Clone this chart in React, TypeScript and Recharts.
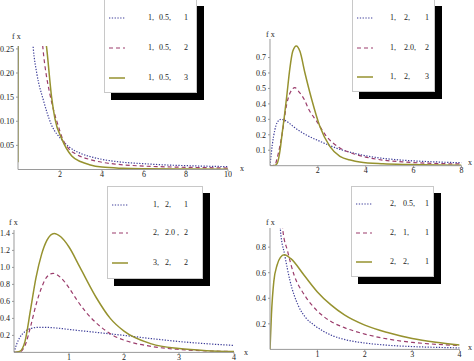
import React from 'react';
import { LineChart, Line, XAxis, YAxis } from 'recharts';

type Pt = { x: number; y: number };
const pts = (a: number[][]): Pt[] => a.map(([x, y]) => ({ x, y }));

// panel 1: (1, 0.5, c)
const p1Blue = [[0.6, 0.33], [0.73, 0.25], [0.9, 0.198], [1.2, 0.145], [1.6, 0.092], [2.08, 0.062], [2.4, 0.048], [3, 0.033], [3.5, 0.026], [4, 0.021], [5, 0.015], [6, 0.012], [7, 0.0095], [8, 0.008], [9, 0.0068], [10, 0.006]];
const p1Red = [[1.05, 0.33], [1.19, 0.25], [1.35, 0.195], [1.5, 0.16], [1.7, 0.122], [1.92, 0.09], [2.1, 0.066], [2.4, 0.044], [2.8, 0.031], [3.4, 0.021], [4, 0.015], [4.7, 0.011], [6, 0.007], [7, 0.0055], [8, 0.0045], [9, 0.0038], [10, 0.003]];
const p1Olive = [[0, 0.015], [0.03, 0.6], [0.5, 0.7], [1.0, 0.38], [1.2, 0.31], [1.37, 0.25], [1.6, 0.15], [1.76, 0.105], [2.08, 0.064], [2.56, 0.028], [3, 0.016], [3.4, 0.01], [4, 0.005], [5, 0.0025], [6, 0.0015], [8, 0.0008], [10, 0.0005]];

// panel 2
const p2Blue = [[0, 0], [0.1, 0.14], [0.2, 0.23], [0.3, 0.28], [0.45, 0.3], [0.6, 0.295], [0.8, 0.275], [1, 0.25], [1.25, 0.223], [1.5, 0.2], [2.08, 0.158], [2.5, 0.13], [2.92, 0.106], [3.4, 0.085], [3.75, 0.072], [4.58, 0.05], [5.2, 0.04], [5.8, 0.033], [7, 0.024], [8, 0.019]];
const p2Red = [[0, 0], [0.2, 0.003], [0.3, 0.05], [0.5, 0.2], [0.7, 0.4], [0.85, 0.475], [1.04, 0.505], [1.2, 0.48], [1.46, 0.42], [1.6, 0.37], [1.94, 0.29], [2.36, 0.19], [2.92, 0.115], [3.4, 0.082], [3.75, 0.065], [4.72, 0.036], [5.7, 0.023], [7, 0.014], [8, 0.011]];
const p2Olive = [[0, 0], [0.2, 0.002], [0.3, 0.015], [0.42, 0.1], [0.5, 0.2], [0.6, 0.32], [0.7, 0.45], [0.83, 0.63], [0.95, 0.74], [1.1, 0.775], [1.25, 0.74], [1.46, 0.6], [1.74, 0.43], [2.08, 0.255], [2.5, 0.125], [2.92, 0.06], [3.4, 0.035], [3.75, 0.024], [4.72, 0.012], [5.8, 0.007], [7, 0.004], [8, 0.003]];

// panel 3
const p3Blue = [[0, 0], [0.05, 0.1], [0.1, 0.17], [0.2, 0.245], [0.3, 0.28], [0.45, 0.295], [0.55, 0.295], [0.8, 0.285], [1, 0.27], [1.5, 0.235], [2, 0.2], [2.5, 0.162], [3, 0.128], [3.5, 0.102], [4, 0.082]];
const p3Red = [[0, 0], [0.1, 0.005], [0.2, 0.08], [0.3, 0.3], [0.4, 0.56], [0.5, 0.76], [0.6, 0.89], [0.71, 0.93], [0.85, 0.88], [1, 0.76], [1.14, 0.62], [1.3, 0.48], [1.56, 0.31], [1.8, 0.2], [2, 0.145], [2.5, 0.07], [3, 0.035], [3.5, 0.018], [4, 0.01]];
const p3Olive = [[0, 0], [0.1, 0.01], [0.2, 0.13], [0.3, 0.5], [0.4, 0.88], [0.5, 1.15], [0.6, 1.32], [0.73, 1.4], [0.85, 1.36], [1, 1.24], [1.2, 1.0], [1.5, 0.64], [1.75, 0.4], [2, 0.25], [2.5, 0.1], [3, 0.045], [3.5, 0.02], [4, 0.01]];

// panel 4
const p4Blue = [[0.18, 1.2], [0.22, 0.935], [0.31, 0.74], [0.42, 0.54], [0.6, 0.34], [0.75, 0.25], [0.95, 0.185], [1.3, 0.11], [1.6, 0.075], [2, 0.05], [2.5, 0.032], [3, 0.022], [3.5, 0.016], [4, 0.012]];
const p4Red = [[0.23, 1.2], [0.27, 0.935], [0.37, 0.77], [0.51, 0.58], [0.72, 0.43], [1, 0.3], [1.28, 0.22], [1.57, 0.17], [2, 0.12], [2.5, 0.08], [3, 0.055], [3.5, 0.04], [4, 0.03]];
const p4Olive = [[0, 0], [0.03, 0.27], [0.08, 0.53], [0.15, 0.66], [0.22, 0.72], [0.3, 0.74], [0.44, 0.71], [0.72, 0.58], [1, 0.45], [1.28, 0.35], [1.57, 0.27], [2, 0.19], [2.5, 0.13], [3, 0.085], [3.5, 0.056], [4, 0.035]];

// ticks
const p1XTicks = [2, 4, 6, 8, 10];
const p1YTicks = [0.05, 0.1, 0.15, 0.2, 0.25];
const p1YLabels = ['0.05', '0.10', '0.15', '0.20', '0.25'];
const p2XTicks = [2, 4, 6, 8];
const p2YTicks = [0.1, 0.2, 0.3, 0.4, 0.5, 0.6, 0.7];
const p2YLabels = ['0.1', '0.2', '0.3', '0.4', '0.5', '0.6', '0.7'];
const p3XTicks = [1, 2, 3, 4];
const p3YTicks = [0.2, 0.4, 0.6, 0.8, 1.0, 1.2, 1.4];
const p3YLabels = ['0.2', '0.4', '0.6', '0.8', '1.0', '1.2', '1.4'];
const p4XTicks = [1, 2, 3, 4];
const p4YTicks = [0.2, 0.4, 0.6, 0.8];
const p4YLabels = ['0.2', '0.4', '0.6', '0.8'];

// legend labels
const p1Legend = [['1,', '0.5,', '1'], ['1,', '0.5,', '2'], ['1,', '0.5,', '3']];
const p2Legend = [['1,', '2,', '1'], ['1,', '2.0,', '2'], ['1,', '2,', '3']];
const p3Legend = [['1,', '2,', '1'], ['2,', '2.0 ,', '2'], ['3,', '2,', '2']];
const p4Legend = [['2,', '0.5,', '1'], ['2,', '1,', '1'], ['2,', '2,', '1']];

const BLUE = '#3d3d99';
const RED = '#9b3d6c';
const OLIVE = '#96922f';
const FONT = '"Liberation Serif", "DejaVu Serif", serif';
const STYLES = [
  { stroke: BLUE, strokeDasharray: '1.3 1.5', strokeWidth: 1.2 },
  { stroke: RED, strokeDasharray: '4 3', strokeWidth: 1.2 },
  { stroke: OLIVE, strokeDasharray: undefined, strokeWidth: 1.5 },
];

const YW = 26;
const XH = 14;
const MT = 4;
const MR = 4;

type PanelProps = {
  left: number; top: number; w: number; h: number;
  xMax: number; yMax: number;
  xTicks: number[]; yTicks: number[]; yLabels: string[];
  series: number[][][];
};

const Panel: React.FC<PanelProps> = ({ left, top, w, h, xMax, yMax, xTicks, yTicks, yLabels, series }) => {
  const tick = { fontSize: 8, fill: '#222', fontFamily: FONT };
  return (
    <div style={{ position: 'absolute', left: left - YW, top: top - MT }}>
      <LineChart width={YW + w + MR} height={MT + h + XH} margin={{ top: MT, right: MR, bottom: 0, left: 0 }}>
        <XAxis
          dataKey="x" type="number" domain={[0, xMax]} ticks={xTicks} interval={0}
          allowDataOverflow height={XH} stroke="#9a9a9a" tickSize={2} tickMargin={0} tick={tick}
        />
        <YAxis
          type="number" domain={[0, yMax]} ticks={yTicks} interval={0} allowDataOverflow
          width={YW} stroke="#9a9a9a" tickSize={2} tickMargin={2} tick={tick}
          tickFormatter={(v: number) => yLabels[yTicks.indexOf(v)] ?? String(v)}
        />
        {series.map((s, i) => (
          <Line
            key={i} data={pts(s)} dataKey="y" type="monotone" dot={false}
            isAnimationActive={false} {...STYLES[i]}
          />
        ))}
      </LineChart>
    </div>
  );
};

type LegendProps = {
  left: number; top: number; w: number; h: number;
  rows: number[]; cols: number[]; labels: string[][];
};

const LegendBox: React.FC<LegendProps> = ({ left, top, w, h, rows, cols, labels }) => (
  <>
    <div style={{ position: 'absolute', left: left + 7, top: top + 7, width: w, height: h, background: '#000' }} />
    <div style={{ position: 'absolute', left, top, width: w, height: h, background: '#fff', border: '1px solid #c8c8c8', boxSizing: 'border-box' }}>
      {rows.map((ry, i) => (
        <React.Fragment key={i}>
          <svg style={{ position: 'absolute', left: 4, top: ry - 2 }} width={16} height={4}>
            <line x1={0} y1={2} x2={16} y2={2} {...STYLES[i]} />
          </svg>
          {labels[i].map((t, j) => (
            <span key={j} style={{ position: 'absolute', left: cols[j], top: ry - 6, fontSize: 8, lineHeight: '12px', fontFamily: FONT, color: '#222', whiteSpace: 'pre' }}>{t}</span>
          ))}
        </React.Fragment>
      ))}
    </div>
  </>
);

const Txt: React.FC<{ x: number; y: number; t: string }> = ({ x, y, t }) => (
  <span style={{ position: 'absolute', left: x, top: y - 6, fontSize: 8, lineHeight: '12px', fontFamily: FONT, color: '#222', whiteSpace: 'pre' }}>{t}</span>
);

export default function App() {
  return (
    <div style={{ position: 'absolute', left: 0, top: 0, width: 474, height: 361, background: '#fff', overflow: 'hidden', opacity: 0.999 }}>
      <Panel left={18} top={46} w={210} h={123.5} xMax={10} yMax={0.256}
        xTicks={p1XTicks} yTicks={p1YTicks} yLabels={p1YLabels} series={[p1Blue, p1Red, p1Olive]} />
      <Panel left={270} top={39.3} w={191.5} h={126.7} xMax={8} yMax={0.82}
        xTicks={p2XTicks} yTicks={p2YTicks} yLabels={p2YLabels} series={[p2Blue, p2Red, p2Olive]} />
      <Panel left={14} top={229.6} w={220} h={122.4} xMax={4} yMax={1.44}
        xTicks={p3XTicks} yTicks={p3YTicks} yLabels={p3YLabels} series={[p3Blue, p3Red, p3Olive]} />
      <Panel left={270} top={228.2} w={189.6} h={121.4} xMax={4} yMax={0.95}
        xTicks={p4XTicks} yTicks={p4YTicks} yLabels={p4YLabels} series={[p4Blue, p4Red, p4Olive]} />

      <Txt x={12} y={37} t="f x" />
      <Txt x={240} y={169} t="x" />
      <Txt x={266} y={35} t="f x" />
      <Txt x={468} y={163} t="x" />
      <Txt x={9} y={223} t="f x" />
      <Txt x={244} y={353} t="x" />
      <Txt x={266} y={223} t="f x" />
      <Txt x={468} y={348} t="x" />

      <LegendBox left={104} top={-1} w={93} h={94} rows={[18, 48, 78]} cols={[43, 54, 79]} labels={p1Legend} />
      <LegendBox left={352} top={-1} w={83} h={93} rows={[18, 48, 77]} cols={[37, 51, 72]} labels={p2Legend} />
      <LegendBox left={107} top={186} w={96} h={93} rows={[18, 46, 76]} cols={[45, 57, 76]} labels={p3Legend} />
      <LegendBox left={351} top={186} w={83} h={91} rows={[17, 46, 75]} cols={[38, 51, 73]} labels={p4Legend} />
    </div>
  );
}
